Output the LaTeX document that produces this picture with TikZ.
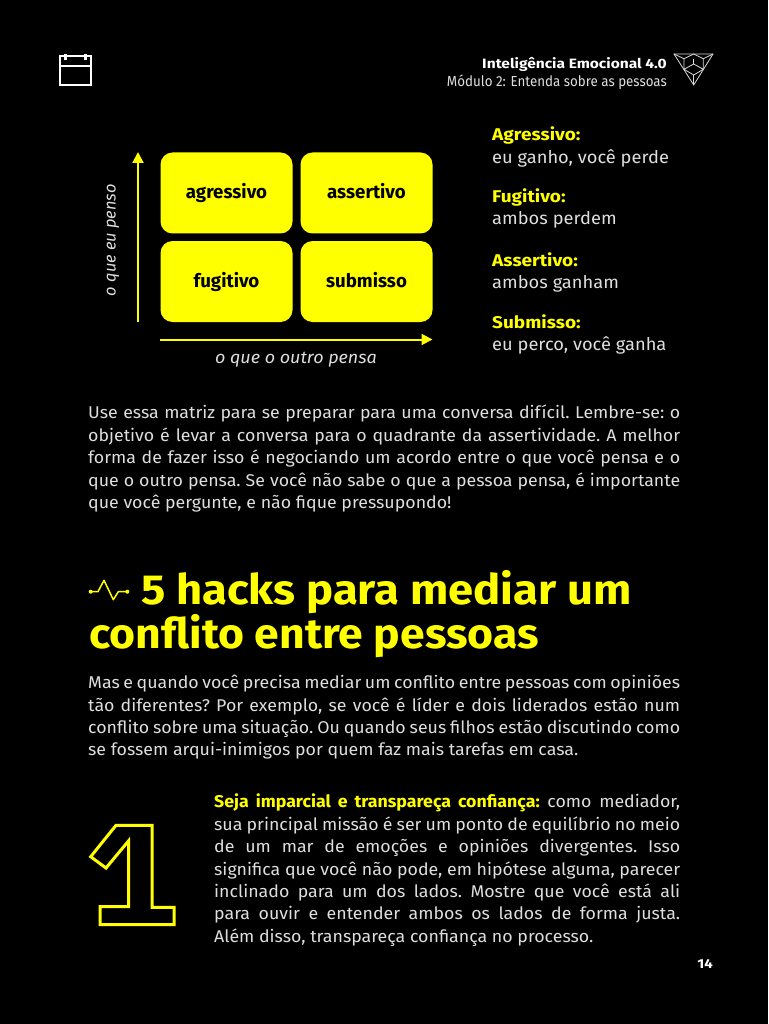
\documentclass[tikz,border=0pt]{standalone}
\usepackage{fontspec}
\setmainfont{Fira Sans}
\newfontfamily\bodyfont[FakeStretch=1.045]{Fira Sans}
\newfontfamily\headfont[FakeStretch=1.12]{Fira Sans}
\newfontfamily\titlefont[FakeStretch=1.08]{Fira Sans}
\newfontfamily\titlefontb[FakeStretch=1.06]{Fira Sans}
\newfontfamily\coursefont[FakeStretch=1.15]{Fira Sans}
\newfontfamily\modulefont[FakeStretch=0.92]{Fira Sans}
\usetikzlibrary{arrows.meta}
\definecolor{hackyellow}{HTML}{FFFF00}
\definecolor{bodygray}{HTML}{DEDEDE}
\tikzset{
    matbox/.style={fill=hackyellow, rounded corners=12pt, minimum width=132pt, minimum height=81pt, inner sep=0pt, text=black, text height=16pt, text depth=4pt, font=\fontsize{18.7}{20}\selectfont\bfseries},
    axisline/.style={draw=hackyellow, line width=2pt, -{Triangle[length=11pt,width=11pt]}},
    axislabel/.style={text=bodygray, inner sep=0pt, font=\bodyfont\fontsize{17.2}{20}\selectfont\itshape},
    sidehead/.style={anchor=base west, inner sep=0pt, text=hackyellow, font=\headfont\fontsize{17}{20}\selectfont\bfseries},
    sidetext/.style={anchor=base west, inner sep=0pt, text=bodygray, font=\bodyfont\fontsize{17.5}{20}\selectfont},
    bodytext/.style={anchor=north west, inner sep=0pt, text=bodygray, align=justify, font=\bodyfont\fontsize{17}{22.4}\selectfont\frenchspacing},
    titletext/.style={anchor=base west, inner sep=0pt, text=hackyellow, font=\fontsize{42}{46}\selectfont\bfseries},
    icon/.style={draw=white, line width=2pt},
    logoline/.style={draw=white!85!black, line width=0.8pt}
}
\begin{document}
\begin{tikzpicture}[x=1pt, y=-1pt]
    \fill [black] (0,0) rectangle (768,1024);
    \useasboundingbox (0,0) rectangle (768,1024);
    % header
    \draw [icon] (60,56.5) rectangle (91,85);
    \draw [icon] (60,66) -- (91,66);
    \draw [icon, line width=3pt] (65.5,54.5) -- (65.5,60);
    \draw [icon, line width=3pt] (85,54.5) -- (85,60);
    \node (course) at (667,68.5) [anchor=base east, inner sep=0pt, text=white, font=\coursefont\fontsize{13.5}{15}\selectfont\bfseries] {Inteligência Emocional 4.0};
    \node (module) at (667,86.5) [anchor=base east, inner sep=0pt, text=bodygray, font=\modulefont\fontsize{14.5}{16}\selectfont] {Módulo 2: Entenda sobre as pessoas};
    \draw [logoline] (674,54) -- (713,54) -- (693.7,85) -- cycle;
    \draw [logoline] (674,54) -- (684,58.7) -- (693.7,54) -- (703.3,58.7) -- (713,54);
    \draw [logoline] (684,58.7) -- (684,69.3) -- (693.7,64) -- (703.3,69.3) -- (703.3,58.7);
    \draw [logoline] (693.7,58.7) -- (693.7,64);
    \draw [logoline] (684,69.3) -- (693.7,75) -- (703.3,69.3);
    \draw [logoline] (693.7,75) -- (693.7,85);
    % matrix
    \node (agressivo) at (226.5,193) [matbox] {agressivo};
    \node (assertivo) at (366.5,193) [matbox] {assertivo};
    \node (fugitivo) at (226.5,281.5) [matbox] {fugitivo};
    \node (submisso) at (366.5,281.5) [matbox] {submisso};
    \coordinate (ybottom) at (138,322);
    \coordinate (ytop) at (138,152);
    \coordinate (xleft) at (160,339.5);
    \coordinate (xright) at (432.5,339.5);
    \draw [axisline] (ybottom) -- (ytop);
    \draw [axisline] (xleft) -- (xright);
    \node (ylabel) at (113,240) [axislabel, rotate=90, font=\fontsize{16.4}{20}\selectfont\itshape] {o que eu penso};
    \node (xlabel) at (296,359.5) [axislabel] {o que o outro pensa};
    % side list
    \node (aghead) at (492,141) [sidehead] {Agressivo:};
    \node (agtext) at (492,164) [sidetext] {eu ganho, você perde};
    \node (fuhead) at (492,203) [sidehead] {Fugitivo:};
    \node (futext) at (492,225) [sidetext] {ambos perdem};
    \node (ashead) at (492,266) [sidehead] {Assertivo:};
    \node (astext) at (492,288) [sidetext] {ambos ganham};
    \node (suhead) at (492,328) [sidehead] {Submisso:};
    \node (sutext) at (492,350.5) [sidetext] {eu perco, você ganha};
    % texts
    \node (intro) at (88,405) [bodytext, text width=592pt] {Use essa matriz para se preparar para uma conversa difícil. Lembre-se: o\linebreak objetivo é levar a conversa para o quadrante da assertividade. A melhor\linebreak forma de fazer isso é negociando um acordo entre o que você pensa e o\linebreak que o outro pensa. Se você não sabe o que a pessoa pensa, é importante\linebreak que você pergunte, e não fique pressupondo!};
    \draw [draw=hackyellow, line width=1.5pt, line join=round] (90.7,591.7) -- (98,591.7) -- (104,580.3) -- (113.3,599.7) -- (118.3,591.7) -- (127.3,591.7);
    \fill [hackyellow] (90.7,591.7) circle (2pt);
    \fill [hackyellow] (127.3,591.7) circle (2pt);
    \node (title) at (141,604.5) [titletext, font=\titlefont\fontsize{42}{46}\selectfont\bfseries] {5 hacks para mediar um};
    \node (titleb) at (89,648.5) [titletext, font=\titlefontb\fontsize{42}{46}\selectfont\bfseries] {conflito entre pessoas};
    \node (mediar) at (88,675) [bodytext, text width=592pt] {Mas e quando você precisa mediar um conflito entre pessoas com opiniões\linebreak tão diferentes? Por exemplo, se você é líder e dois liderados estão num\linebreak conflito sobre uma situação. Ou quando seus filhos estão discutindo como\linebreak se fossem arqui-inimigos por quem faz mais tarefas em casa.};
    % number one
    \draw [draw=hackyellow, line width=3pt, miter limit=10] (116,825.3) -- (152,825.3) -- (152,907.3) -- (174,907.3) -- (174,924.7) -- (100,924.7) -- (100,906.7) -- (128.7,906.7) -- (128.7,840.7) -- (106,868) -- (90.7,856.7) -- cycle;
    \node (hack) at (214,794) [bodytext, text width=466pt] {{\bfseries\color{hackyellow}Seja imparcial e transpareça confiança:} como mediador,\linebreak sua principal missão é ser um ponto de equilíbrio no meio\linebreak de um mar de emoções e opiniões divergentes. Isso\linebreak significa que você não pode, em hipótese alguma, parecer\linebreak inclinado para um dos lados. Mostre que você está ali\linebreak para ouvir e entender ambos os lados de forma justa.\linebreak Além disso, transpareça confiança no processo.};
    \node (page) at (713,964) [anchor=east, inner sep=0pt, text=white, font=\coursefont\fontsize{13}{15}\selectfont\bfseries] {14};
\end{tikzpicture}
\end{document}
